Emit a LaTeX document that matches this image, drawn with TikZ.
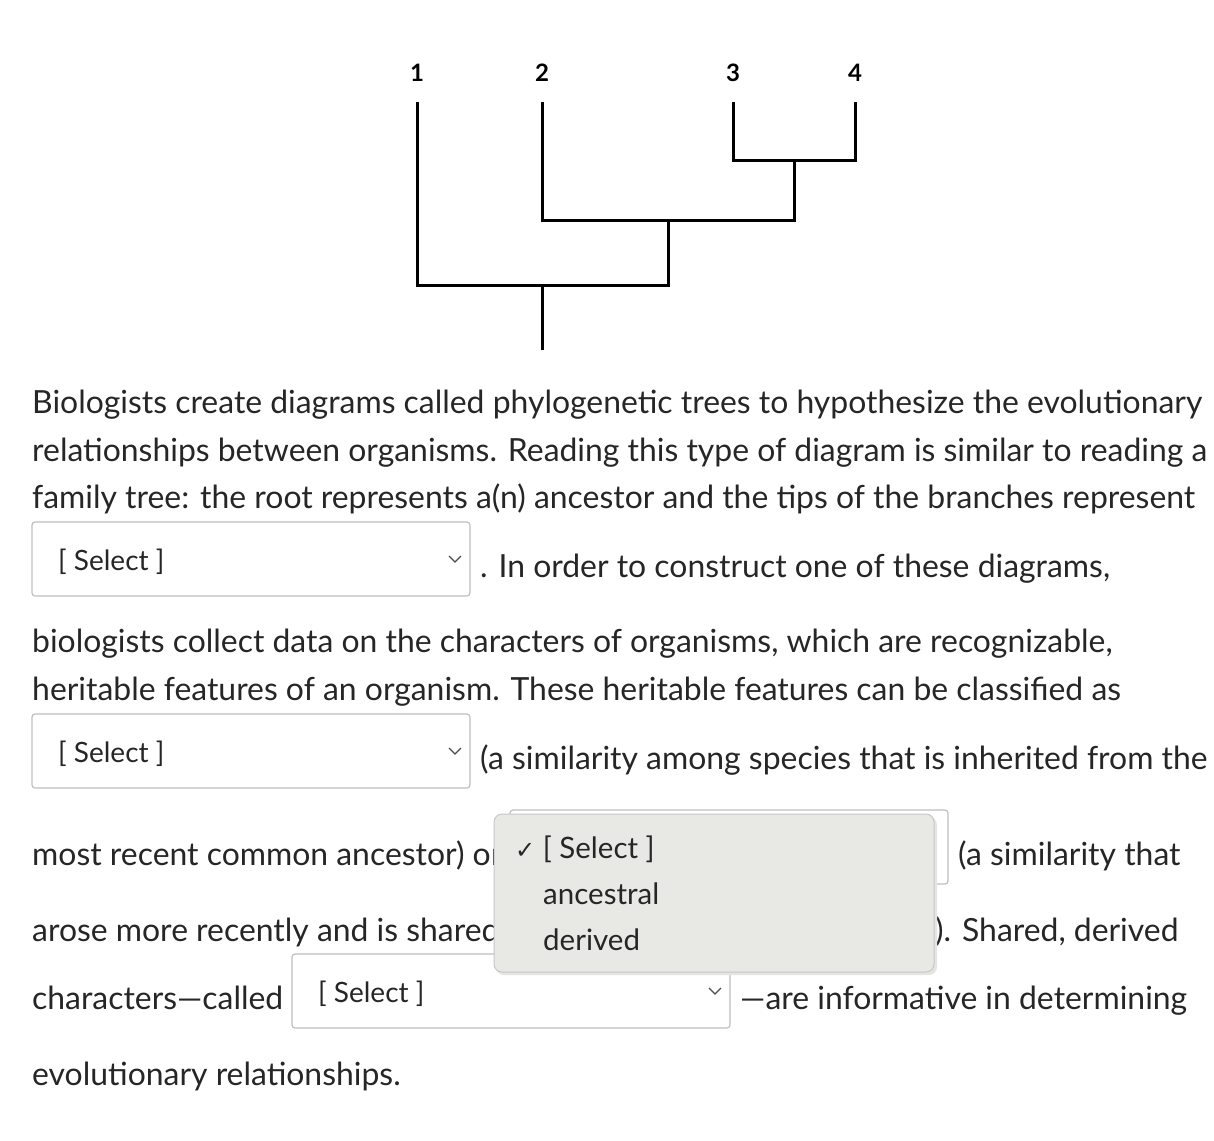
\documentclass[tikz,border=0pt]{standalone}
\usepackage{fontspec}
\setmainfont{Lato}
\newfontfamily\symf{DejaVu Sans}
\definecolor{popfill}{HTML}{E8E9E5}
\begin{document}
\begin{tikzpicture}[x=1pt,y=-1pt,
  br/.style={line width=3pt,line cap=rect},
  tip/.style={font=\fontsize{24}{24}\selectfont\bfseries},
  txt/.style={anchor=base west,inner sep=0pt,font=\fontsize{31.9}{32}\selectfont,text=black!85},
  sel/.style={anchor=base west,inner sep=0pt,font=\fontsize{28}{28}\selectfont,text=black!85},
  pop/.style={anchor=base west,inner sep=0pt,font=\fontsize{29.5}{30}\selectfont,text=black!85},
  dbox/.style={draw=black!25,line width=1.2pt,rounded corners=3pt,fill=white},
  chev/.style={line width=1.2pt,black!70}]
\useasboundingbox (0,0) rectangle (1214,1140);
% tree
\node[tip] (t1) at (417,73) {1};
\node[tip] (t2) at (542,73) {2};
\node[tip] (t3) at (733,73) {3};
\node[tip] (t4) at (855,73) {4};
\draw[br] (417,103) -- (417,285) -- (668,285);
\draw[br] (542,103) -- (542,220) -- (794,220);
\draw[br] (733,103) -- (733,160) -- (855,160) -- (855,103);
\draw[br] (794,160) -- (794,220);
\draw[br] (668,220) -- (668,285);
\draw[br] (542,285) -- (542,348);
% paragraph
\node[txt] (l1) at (32,413) {Biologists create diagrams called phylogenetic trees to hypothesize the evolutionary};
\node[txt] (l2) at (32,461) {relationships between organisms. Reading this type of diagram is similar to reading a};
\node[txt] (l3) at (32,508) {family tree: the root represents a(n) ancestor and the tips of the branches represent};
\draw[dbox] (32,522) rectangle (470,596);
\node[sel] (s1) at (58,570) {[ Select ]};
\draw[chev] (449,556) -- (455,562) -- (461,556);
\node[txt] (l4) at (480,577) {. In order to construct one of these diagrams,};
\node[txt] (l5) at (32,652) {biologists collect data on the characters of organisms, which are recognizable,};
\node[txt] (l6) at (32,700) {heritable features of an organism. These heritable features can be classified as};
\draw[dbox] (32,714) rectangle (470,788);
\node[sel] (s2) at (58,762) {[ Select ]};
\draw[chev] (449,748) -- (455,754) -- (461,748);
\node[txt] (l7) at (480,769) {(a similarity among species that is inherited from the};
\draw[dbox] (510,810) rectangle (948,884);
\node[txt] (l8) at (32,865) {most recent common ancestor) or};
\node[txt] (l9) at (958,865) {(a similarity that};
\node[txt] (l10) at (32,941) {arose more recently and is shared};
\node[txt] (l11) at (935,941) {). Shared, derived};
\node[txt] (l12) at (32,1009) {characters---called};
\draw[dbox] (292,954) rectangle (730,1028);
\node[sel] (s4) at (318,1002) {[ Select ]};
\draw[chev] (709,988) -- (715,994) -- (721,988);
\node[txt] (l13) at (740,1009) {---are informative in determining};
\node[txt] (l14) at (32,1085) {evolutionary relationships.};
% popup
\fill[black!10,rounded corners=8pt] (496,817) rectangle (937,975);
\draw[draw=black!22,fill=popfill,line width=1pt,rounded corners=8pt] (494,814) rectangle (934,972);
\node[pop] (p1) at (515,858) {{\symf\bfseries\fontsize{24}{24}\selectfont ✓} [ Select ]};
\node[pop] (p2) at (543,904) {ancestral};
\node[pop] (p3) at (543,950) {derived};
\end{tikzpicture}
\end{document}
